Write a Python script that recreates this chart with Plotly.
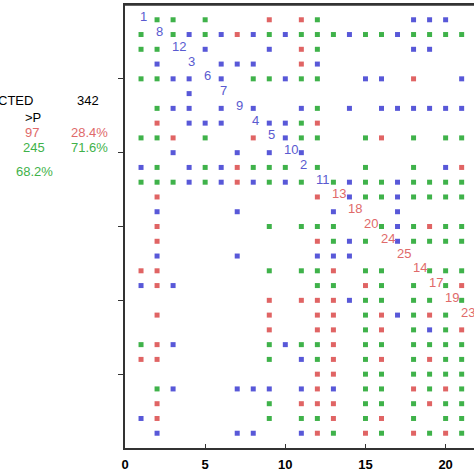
import plotly.graph_objects as go

# one string per row (rows 1..29), one char per column 1..21
# B/R/G = blue/red/green square, '#' = diagonal label, '.' = empty
rows = [
    "#GG.G...R.RG.....BBB.",
    "G#GBGBRBGBGGGBGGBGGGG",
    "GG#.B...B.RG.....BB..",
    ".B.#.BBB..RB.........",
    "GGBB#B.GGBGG..BB.R..B",
    "...B.#...............",
    ".GBB.B#B..BG.B.BBBBBB",
    ".R.BBB.#BBGR.........",
    "GGR.G..R#BGG..GR.G.GG",
    "..B...B.B#B..........",
    "BG.BGBRGGG#G..G..G.BR",
    "GGGBGBRBGBG#GBGGBGGGG",
    ".R.........R#BGGBGGGG",
    ".B....B.....B#..B....",
    ".R......G.GGG.#GBGRGG",
    ".R.........RGBG#BGGGG",
    ".B....B....BBB..#....",
    "RR......G.GGR.GG.#GGG",
    "BRB........GG.RG.G#GR",
    "........R.RRRBGG.GG#G",
    ".R......R..RR.GRBGRG#",
    "........R..RR.GR.GBGR",
    "GRB.....GBGGR.GG.GGGG",
    "RR......G.BGR.GR.GRGG",
    "...........RR.GG.GGGG",
    ".GB...BBB.BRB.GG.RGRG",
    ".R......G.RRR.GG.GRGG",
    "BR......G.GGR.GR.G.GG",
    ".B....BB..BRG.RG.RGRG",
]

diag_labels = ["1", "8", "12", "3", "6", "7", "9", "4", "5", "10", "2",
               "11", "13", "18", "20", "24", "25", "14", "17", "19", "23"]
diag_groups = ["B"] * 12 + ["R"] * 9

summary_counts = ["342", "97", "245"]
summary_pcts = ["28.4%", "71.6%", "68.2%"]

colors = {"B": "#5858d8", "R": "#e06464", "G": "#3fb24a"}
text_colors = {"B": "#5a5ad0", "R": "#e06a6a"}

x_range = [0, 21.77]
y_range = [30, 0]

fig = go.Figure()

# top frame line along the upper edge of the plot
fig.add_trace(go.Scatter(
    x=x_range, y=[y_range[1], y_range[1]], mode="lines",
    line=dict(color="#333", width=1.5), cliponaxis=False,
    showlegend=False, hoverinfo="skip",
))

for code in ["G", "B", "R"]:
    xs, ys = [], []
    for r, line in enumerate(rows, start=1):
        for c, ch in enumerate(line, start=1):
            if ch == code:
                xs.append(c)
                ys.append(r)
    fig.add_trace(go.Scatter(
        x=xs, y=ys, mode="markers",
        marker=dict(symbol="square", size=5, color=colors[code], line=dict(width=0)),
        showlegend=False, hoverinfo="skip",
    ))

# numbers along the diagonal
for i, (lab, grp) in enumerate(zip(diag_labels, diag_groups), start=1):
    fig.add_annotation(
        x=i, y=i, xref="x", yref="y", text=lab, showarrow=False,
        xanchor="left", yanchor="middle", xshift=-3, yshift=3,
        font=dict(family="Liberation Sans, Arial", size=13, color=text_colors[grp]),
    )


# side summary text (cropped table at the left)
def paper(px, py):
    return (px - 125) / 349, (448 - py) / 443


side = [
    ("CTED", 35, 100, "right", "black"),
    (summary_counts[0], 88, 100, "center", "black"),
    (">P", 33, 117, "center", "black"),
    (summary_counts[1], 32, 132, "center", "#e06a6a"),
    (summary_pcts[0], 89, 132, "center", "#e06a6a"),
    (summary_counts[2], 34, 147, "center", "#3fb24a"),
    (summary_pcts[1], 89, 147, "center", "#3fb24a"),
    (summary_pcts[2], 34, 171, "center", "#3fb24a"),
]
for txt, px, py, anchor, col in side:
    ax, ay = paper(px, py)
    fig.add_annotation(
        x=ax, y=ay, xref="paper", yref="paper", text=txt, showarrow=False,
        xanchor=anchor, yanchor="middle",
        font=dict(family="Liberation Sans, Arial", size=13, color=col),
    )

fig.update_xaxes(
    range=x_range, tickvals=[0, 5, 10, 15, 20],
    ticks="inside", ticklen=4, tickwidth=1.2, tickcolor="#333",
    showline=True, linecolor="#333", linewidth=1.5, mirror=True,
    showgrid=False, zeroline=False, ticklabelstandoff=4,
    tickfont=dict(family="Liberation Sans, Arial", size=13, color="black", weight="bold"),
)
fig.update_yaxes(
    range=y_range, tickvals=[5, 10, 15, 20, 25], showticklabels=False,
    ticks="outside", ticklen=5, tickwidth=1.2, tickcolor="#333",
    showline=True, linecolor="#333", linewidth=1.5,
    showgrid=False, zeroline=False,
)
fig.update_layout(
    width=474, height=474,
    margin=dict(l=125, r=0, t=5, b=26),
    plot_bgcolor="white", paper_bgcolor="white",
)

fig.write_html(
    "out.html",
    config={"displayModeBar": False},
    post_script="document.body.style.margin='0';document.body.style.overflow='hidden';",
)
